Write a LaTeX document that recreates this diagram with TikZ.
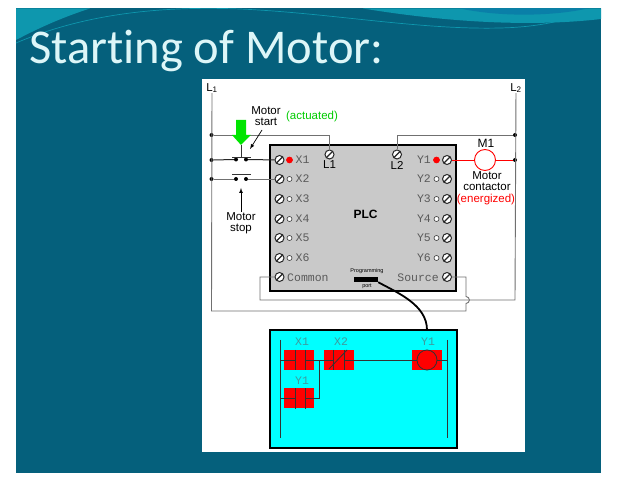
\documentclass[tikz,border=0pt]{standalone}
\usepackage{fontspec}
\setsansfont{Liberation Sans}
\setmonofont{Liberation Mono}
\newfontfamily\titlefont[Ligatures=NoCommon]{Carlito}
\definecolor{slidebg}{HTML}{05607C}
\definecolor{wavelight}{HTML}{0E97AE}
\definecolor{waveblue}{HTML}{0A7FA8}
\definecolor{titletext}{HTML}{DDF6F8}
\definecolor{plcgray}{HTML}{C9C9C9}
\definecolor{wiregray}{HTML}{707070}
\definecolor{monogray}{HTML}{5A5A5A}
\definecolor{laddertext}{HTML}{3E9A9E}
\definecolor{screencyan}{HTML}{00FFFF}
\tikzset{
  wire/.style={draw=wiregray, line width=0.9pt},
  tag/.style={font=\sffamily\fontsize{11.5}{10}\selectfont, inner sep=0pt, align=center},
  ioname/.style={font=\ttfamily\fontsize{11.5}{10}\selectfont, text=monogray, inner sep=0pt},
  screw/.style={circle, draw=black!85, fill=white, line width=1pt, minimum size=9pt, inner sep=0pt,
    path picture={\draw[line width=1.3pt] (path picture bounding box.south west) -- (path picture bounding box.north east);}},
  led/.style={circle, draw=black!80, fill=white, line width=0.6pt, minimum size=5pt, inner sep=0pt},
  joint/.style={circle, fill=black, minimum size=4pt, inner sep=0pt},
  relay/.style={fill=red, minimum width=30pt, minimum height=20pt, inner sep=0pt},
  rung/.style={draw=black!80, line width=0.8pt},
}
% one input or output of the PLC: screw, lamp, name
\newcommand{\xport}[3]{
  \node[screw] (#1) at (279.5,#2) {};
  \node[led] (#1led) at (289.5,#2) {};
  \node[ioname, anchor=west] (#1txt) at (295.5,#2) {#3};
}
\newcommand{\yport}[3]{
  \node[screw] (#1) at (447,#2) {};
  \node[led] (#1led) at (436.5,#2) {};
  \node[ioname, anchor=east] (#1txt) at (431,#2) {#3};
}
\begin{document}
\begin{tikzpicture}[x=1pt, y=-1pt]
  \useasboundingbox (0,0) rectangle (638,478);
  \fill[white] (0,0) rectangle (638,478);
  % slide
  \fill[slidebg] (16,8.5) rectangle (601,473);
  \fill[wavelight] (16,8.5) -- (90,8.5) .. controls (60,18) and (35,30) .. (16,40) -- cycle;
  \fill[wavelight] (363,8.5) -- (601,8.5) -- (601,19) .. controls (550,25) and (470,26) .. (363,8.5) -- cycle;
  \fill[waveblue] (460,8.5) -- (587,8.5) .. controls (565,14) and (510,19) .. (460,8.5) -- cycle;
  \draw[wavelight, line width=0.7pt] (16,43) .. controls (70,20) and (140,5) .. (240,9) .. controls (330,13) and (420,30) .. (500,28) .. controls (545,27) and (575,18) .. (590,9);
  \node[font=\titlefont\fontsize{48.5}{48}\selectfont, text=titletext, anchor=west, inner sep=0pt] (title) at (29,51) {Starting of Motor:};
  \fill[white] (202,79) rectangle (525,452);
  % plc
  \node[draw=black, line width=1.3pt, fill=plcgray, minimum width=186pt, minimum height=146pt, inner sep=0pt] (plc) at (363,218) {};
  \node[font=\sffamily\bfseries\fontsize{12}{12}\selectfont, inner sep=0pt] (plcname) at (365.5,214) {PLC};
  \xport{x1}{160}{X1}
  \xport{x2}{179}{X2}
  \xport{x3}{199}{X3}
  \xport{x4}{219}{X4}
  \xport{x5}{238}{X5}
  \xport{x6}{258}{X6}
  \yport{y1}{160}{Y1}
  \yport{y2}{179}{Y2}
  \yport{y3}{199}{Y3}
  \yport{y4}{219}{Y4}
  \yport{y5}{238}{Y5}
  \yport{y6}{258}{Y6}
  \node[led, fill=red, draw=red, minimum size=6pt] at (x1led) {};
  \node[led, fill=red, draw=red, minimum size=6pt] at (y1led) {};
  \node[screw] (common) at (279.5,277) {};
  \node[ioname, anchor=west] (commontxt) at (287,277.5) {Common};
  \node[screw] (source) at (447,277) {};
  \node[ioname, anchor=east] (sourcetxt) at (439,277.5) {Source};
  \node[screw] (l1) at (329.5,154.5) {};
  \node[tag] (l1txt) at (329.5,165) {L1};
  \node[screw] (l2) at (397,154.5) {};
  \node[tag] (l2txt) at (397,165) {L2};
  % programming port
  \node[fill=black, minimum width=24pt, minimum height=5pt, inner sep=0pt] (port) at (366,279.5) {};
  \node[font=\sffamily\fontsize{5.5}{5}\selectfont, inner sep=0pt] (porttop) at (367,271) {Programming};
  \node[font=\sffamily\fontsize{5.5}{5}\selectfont, inner sep=0pt] (portlow) at (367,286) {port};
  % power rails
  \node[tag] (l1top) at (212,88) {L\textsubscript{1}};
  \node[tag] (l2top) at (516,88) {L\textsubscript{2}};
  \node[joint] (n1) at (211.5,135) {};
  \node[joint] (n2) at (211.5,160) {};
  \node[joint] (n3) at (211.5,179) {};
  \node[joint] (n4) at (515,135) {};
  \node[joint] (n5) at (515,160) {};
  \coordinate (corner1) at (211.5,311);
  \coordinate (corner2) at (466,311);
  \coordinate (corner3) at (515,300);
  \coordinate (corner4) at (260,300);
  \coordinate (corner5) at (260,277);
  \coordinate (corner6) at (466,277);
  \draw[wire] (l1top) -- (corner1) -- (corner2) -- (466,303.5) .. controls (470.5,303) and (470.5,297) .. (466,296.5) -- (corner6) -- (source);
  \draw[wire] (common) -- (corner5) -- (corner4) -- (corner3) -- (l2top);
  \draw[wire] (n1) -| (l1);
  \draw[wire] (n4) -| (l2);
  % switches
  \node[joint] (a1) at (236,159.5) {};
  \node[joint] (a2) at (246,159.5) {};
  \node[joint] (b1) at (236,179) {};
  \node[joint] (b2) at (246,179) {};
  \draw[black!85, line width=1pt] (n2) -- (a1) (a2) -- (x1);
  \draw[wire] (n3) -- (b1) (b2) -- (x2);
  \draw[black!80, line width=0.9pt] (232,157) -- (251,157) (241,157) -- (241,145);
  \draw[black!80, line width=0.9pt] (232,174) -- (251,174);
  \fill[green!90!black] (236,120) -- (246,120) -- (246,135) -- (251,135) -- (241,145) -- (232,135) -- (236,135) -- cycle;
  \node[tag] (startlbl) at (266,116) {Motor\\[1.5pt]start};
  \node[tag, text=green!80!black] (act) at (312,116.5) {(actuated)};
  \draw[-latex, line width=0.7pt] (262,130) -- (250,149);
  \node[tag] (stoplbl) at (241,223) {Motor\\[1.5pt]stop};
  \draw[-latex, line width=0.7pt] (stoplbl) -- (241,188);
  % motor contactor
  \node[circle, draw=red, fill=white, line width=0.9pt, minimum size=21pt, inner sep=0pt] (m1) at (485,160) {};
  \draw[red, line width=0.9pt] (y1) -- (m1) (m1) -- (n5);
  \node[tag, font=\sffamily\fontsize{12}{12}\selectfont] (m1txt) at (486,143) {M1};
  \node[tag] (contlbl) at (487,181) {Motor\\[1.5pt]contactor};
  \node[tag, text=red] (enlbl) at (486,199.5) {(energized)};
  % ladder
  \node[draw=black, line width=1.2pt, fill=screencyan, minimum width=187pt, minimum height=118pt, inner sep=0pt] (screen) at (363.5,389) {};
  \coordinate (cablein) at (427,330);
  \draw[black, line width=1.8pt] (port.south east) .. controls (398,293) and (427,305) .. (cablein);
  \node[relay] (cx1) at (299,360) {};
  \node[relay] (cx2) at (339,360) {};
  \node[relay] (cy1) at (427,360) {};
  \node[relay] (cy2) at (299,398.5) {};
  \coordinate (railA) at (280,340);
  \coordinate (railB) at (280,438);
  \coordinate (railC) at (447,340);
  \coordinate (railD) at (447,438);
  \coordinate (x1a) at (295,360);
  \coordinate (x1b) at (305,360);
  \coordinate (x2a) at (333,360);
  \coordinate (x2b) at (344,360);
  \coordinate (y2a) at (295,398.5);
  \coordinate (y2b) at (305,398.5);
  \coordinate (leftA) at (280,360);
  \coordinate (leftB) at (280,398.5);
  \coordinate (rightA) at (447,360);
  \coordinate (branch) at (319,360);
  \node[circle, draw=black!80, fill=red, line width=0.8pt, minimum size=20pt, inner sep=0pt] (coil) at (427,360) {};
  \draw[rung] (railA) -- (railB);
  \draw[rung] (railC) -- (railD);
  \draw[rung] (leftA) -- (x1a) (x1b) -- (x2a) (x2b) -- (coil) (coil) -- (rightA);
  \draw[rung] (leftB) -- (y2a) (y2b) -- (319,398.5) -- (branch);
  \draw[rung] (cx1.north -| x1a) -- (cx1.south -| x1a);
  \draw[rung] (cx1.north -| x1b) -- (cx1.south -| x1b);
  \draw[rung] (cx2.north -| x2a) -- (cx2.south -| x2a);
  \draw[rung] (cx2.north -| x2b) -- (cx2.south -| x2b);
  \draw[rung] (cy2.north -| y2a) -- (cy2.south -| y2a);
  \draw[rung] (cy2.north -| y2b) -- (cy2.south -| y2b);
  \draw[rung] (329,369) -- (347,350);
  \node[ioname, text=laddertext] (tx1) at (302,342) {X1};
  \node[ioname, text=laddertext] (tx2) at (341,342) {X2};
  \node[ioname, text=laddertext] (ty1) at (428,342) {Y1};
  \node[ioname, text=laddertext] (ty2) at (302,381) {Y1};
\end{tikzpicture}
\end{document}
